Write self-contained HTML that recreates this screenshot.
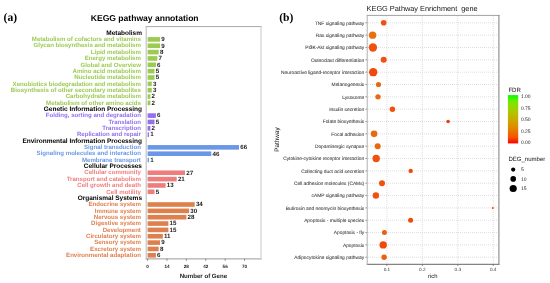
<!DOCTYPE html><html><head><meta charset="utf-8"><style>
html,body{margin:0;padding:0;background:#fff;width:550px;height:283px;overflow:hidden}
svg{display:block;will-change:transform}
text{font-family:"Liberation Sans",sans-serif;text-rendering:geometricPrecision}
</style></head><body>
<svg width="550" height="283" viewBox="0 0 550 283">
<rect width="550" height="283" fill="#fff"/>

<text x="3.6" y="20.8" style="font-family:'Liberation Serif',serif;font-weight:700;font-size:11.6px" fill="#000">(a)</text>
<text x="144.7" y="21.2" text-anchor="middle" style="font-weight:700;font-size:8.55px" fill="#000">KEGG pathway annotation</text>
<line x1="145.7" y1="26.6" x2="261.5" y2="26.6" stroke="#A8A8A8" stroke-width="1"/>
<line x1="145.7" y1="258.9" x2="261.5" y2="258.9" stroke="#999" stroke-width="1"/>
<line x1="146.2" y1="26.1" x2="146.2" y2="259.4" stroke="#B8B8B8" stroke-width="1"/>
<line x1="261.0" y1="26.1" x2="261.0" y2="259.4" stroke="#C8C8C8" stroke-width="1"/>
<text x="142" y="34.75" text-anchor="end" style="font-weight:700;font-size:6.5px" fill="#000">Metabolism</text>
<text x="140.9" y="41.10" text-anchor="end" style="font-weight:700;font-size:6.1px" fill="#9BCB52">Metabolism of cofactors and vitamins</text>
<rect x="147.6" y="37.10" width="12.46" height="4.6" fill="#9BCB52"/>
<text x="161.26" y="41.20" style="font-weight:700;font-size:6.2px" fill="#1a1a1a">9</text>
<text x="140.9" y="47.45" text-anchor="end" style="font-weight:700;font-size:6.1px" fill="#9BCB52">Glycan biosynthesis and metabolism</text>
<rect x="147.6" y="43.45" width="12.46" height="4.6" fill="#9BCB52"/>
<text x="161.26" y="47.55" style="font-weight:700;font-size:6.2px" fill="#1a1a1a">9</text>
<text x="140.9" y="53.80" text-anchor="end" style="font-weight:700;font-size:6.1px" fill="#9BCB52">Lipid metabolism</text>
<rect x="147.6" y="49.80" width="11.08" height="4.6" fill="#9BCB52"/>
<text x="159.88" y="53.90" style="font-weight:700;font-size:6.2px" fill="#1a1a1a">8</text>
<text x="140.9" y="60.15" text-anchor="end" style="font-weight:700;font-size:6.1px" fill="#9BCB52">Energy metabolism</text>
<rect x="147.6" y="56.15" width="9.70" height="4.6" fill="#9BCB52"/>
<text x="158.49" y="60.25" style="font-weight:700;font-size:6.2px" fill="#1a1a1a">7</text>
<text x="140.9" y="66.50" text-anchor="end" style="font-weight:700;font-size:6.1px" fill="#9BCB52">Global and Overview</text>
<rect x="147.6" y="62.50" width="8.31" height="4.6" fill="#9BCB52"/>
<text x="157.11" y="66.60" style="font-weight:700;font-size:6.2px" fill="#1a1a1a">6</text>
<text x="140.9" y="72.85" text-anchor="end" style="font-weight:700;font-size:6.1px" fill="#9BCB52">Amino acid metabolism</text>
<rect x="147.6" y="68.85" width="6.92" height="4.6" fill="#9BCB52"/>
<text x="155.72" y="72.95" style="font-weight:700;font-size:6.2px" fill="#1a1a1a">5</text>
<text x="140.9" y="79.20" text-anchor="end" style="font-weight:700;font-size:6.1px" fill="#9BCB52">Nucleotide metabolism</text>
<rect x="147.6" y="75.20" width="6.92" height="4.6" fill="#9BCB52"/>
<text x="155.72" y="79.30" style="font-weight:700;font-size:6.2px" fill="#1a1a1a">5</text>
<text x="140.9" y="85.55" text-anchor="end" style="font-weight:700;font-size:6.1px" fill="#9BCB52">Xenobiotics biodegradation and metabolism</text>
<rect x="147.6" y="81.55" width="4.16" height="4.6" fill="#9BCB52"/>
<text x="152.95" y="85.65" style="font-weight:700;font-size:6.2px" fill="#1a1a1a">3</text>
<text x="140.9" y="91.90" text-anchor="end" style="font-weight:700;font-size:6.1px" fill="#9BCB52">Biosynthesis of other secondary metabolites</text>
<rect x="147.6" y="87.90" width="4.16" height="4.6" fill="#9BCB52"/>
<text x="152.95" y="92.00" style="font-weight:700;font-size:6.2px" fill="#1a1a1a">3</text>
<text x="140.9" y="98.25" text-anchor="end" style="font-weight:700;font-size:6.1px" fill="#9BCB52">Carbohydrate metabolism</text>
<rect x="147.6" y="94.25" width="2.77" height="4.6" fill="#9BCB52"/>
<text x="151.57" y="98.35" style="font-weight:700;font-size:6.2px" fill="#1a1a1a">2</text>
<text x="140.9" y="104.60" text-anchor="end" style="font-weight:700;font-size:6.1px" fill="#9BCB52">Metabolism of other amino acids</text>
<rect x="147.6" y="100.60" width="2.77" height="4.6" fill="#9BCB52"/>
<text x="151.57" y="104.70" style="font-weight:700;font-size:6.2px" fill="#1a1a1a">2</text>
<text x="142" y="110.95" text-anchor="end" style="font-weight:700;font-size:6.5px" fill="#000">Genetic Information Processing</text>
<text x="140.9" y="117.30" text-anchor="end" style="font-weight:700;font-size:6.1px" fill="#9370EE">Folding, sorting and degradation</text>
<rect x="147.6" y="113.30" width="8.31" height="4.6" fill="#9370EE"/>
<text x="157.11" y="117.40" style="font-weight:700;font-size:6.2px" fill="#1a1a1a">6</text>
<text x="140.9" y="123.65" text-anchor="end" style="font-weight:700;font-size:6.1px" fill="#9370EE">Translation</text>
<rect x="147.6" y="119.65" width="6.92" height="4.6" fill="#9370EE"/>
<text x="155.72" y="123.75" style="font-weight:700;font-size:6.2px" fill="#1a1a1a">5</text>
<text x="140.9" y="130.00" text-anchor="end" style="font-weight:700;font-size:6.1px" fill="#9370EE">Transcription</text>
<rect x="147.6" y="126.00" width="2.77" height="4.6" fill="#9370EE"/>
<text x="151.57" y="130.10" style="font-weight:700;font-size:6.2px" fill="#1a1a1a">2</text>
<text x="140.9" y="136.35" text-anchor="end" style="font-weight:700;font-size:6.1px" fill="#9370EE">Replication and repair</text>
<rect x="147.6" y="132.35" width="1.39" height="4.6" fill="#9370EE"/>
<text x="150.18" y="136.45" style="font-weight:700;font-size:6.2px" fill="#1a1a1a">1</text>
<text x="142" y="142.70" text-anchor="end" style="font-weight:700;font-size:6.5px" fill="#000">Environmental Information Processing</text>
<text x="140.9" y="149.05" text-anchor="end" style="font-weight:700;font-size:6.1px" fill="#6A98E6">Signal transduction</text>
<rect x="147.6" y="145.05" width="91.41" height="4.6" fill="#6A98E6"/>
<text x="240.21" y="149.15" style="font-weight:700;font-size:6.2px" fill="#1a1a1a">66</text>
<text x="140.9" y="155.40" text-anchor="end" style="font-weight:700;font-size:6.1px" fill="#6A98E6">Signaling molecules and interaction</text>
<rect x="147.6" y="151.40" width="63.71" height="4.6" fill="#6A98E6"/>
<text x="212.51" y="155.50" style="font-weight:700;font-size:6.2px" fill="#1a1a1a">46</text>
<text x="140.9" y="161.75" text-anchor="end" style="font-weight:700;font-size:6.1px" fill="#6A98E6">Membrane transport</text>
<rect x="147.6" y="157.75" width="1.39" height="4.6" fill="#6A98E6"/>
<text x="150.18" y="161.85" style="font-weight:700;font-size:6.2px" fill="#1a1a1a">1</text>
<text x="142" y="168.10" text-anchor="end" style="font-weight:700;font-size:6.5px" fill="#000">Cellular Processes</text>
<text x="140.9" y="174.45" text-anchor="end" style="font-weight:700;font-size:6.1px" fill="#EE7E7E">Cellular community</text>
<rect x="147.6" y="170.45" width="37.40" height="4.6" fill="#EE7E7E"/>
<text x="186.19" y="174.55" style="font-weight:700;font-size:6.2px" fill="#1a1a1a">27</text>
<text x="140.9" y="180.80" text-anchor="end" style="font-weight:700;font-size:6.1px" fill="#EE7E7E">Transport and catabolism</text>
<rect x="147.6" y="176.80" width="29.09" height="4.6" fill="#EE7E7E"/>
<text x="177.88" y="180.90" style="font-weight:700;font-size:6.2px" fill="#1a1a1a">21</text>
<text x="140.9" y="187.15" text-anchor="end" style="font-weight:700;font-size:6.1px" fill="#EE7E7E">Cell growth and death</text>
<rect x="147.6" y="183.15" width="18.00" height="4.6" fill="#EE7E7E"/>
<text x="166.80" y="187.25" style="font-weight:700;font-size:6.2px" fill="#1a1a1a">13</text>
<text x="140.9" y="193.50" text-anchor="end" style="font-weight:700;font-size:6.1px" fill="#EE7E7E">Cell motility</text>
<rect x="147.6" y="189.50" width="6.92" height="4.6" fill="#EE7E7E"/>
<text x="155.72" y="193.60" style="font-weight:700;font-size:6.2px" fill="#1a1a1a">5</text>
<text x="142" y="199.85" text-anchor="end" style="font-weight:700;font-size:6.5px" fill="#000">Organismal Systems</text>
<text x="140.9" y="206.20" text-anchor="end" style="font-weight:700;font-size:6.1px" fill="#DE804E">Endocrine system</text>
<rect x="147.6" y="202.20" width="47.09" height="4.6" fill="#DE804E"/>
<text x="195.89" y="206.30" style="font-weight:700;font-size:6.2px" fill="#1a1a1a">34</text>
<text x="140.9" y="212.55" text-anchor="end" style="font-weight:700;font-size:6.1px" fill="#DE804E">Immune system</text>
<rect x="147.6" y="208.55" width="41.55" height="4.6" fill="#DE804E"/>
<text x="190.35" y="212.65" style="font-weight:700;font-size:6.2px" fill="#1a1a1a">30</text>
<text x="140.9" y="218.90" text-anchor="end" style="font-weight:700;font-size:6.1px" fill="#DE804E">Nervous system</text>
<rect x="147.6" y="214.90" width="38.78" height="4.6" fill="#DE804E"/>
<text x="187.58" y="219.00" style="font-weight:700;font-size:6.2px" fill="#1a1a1a">28</text>
<text x="140.9" y="225.25" text-anchor="end" style="font-weight:700;font-size:6.1px" fill="#DE804E">Digestive system</text>
<rect x="147.6" y="221.25" width="20.77" height="4.6" fill="#DE804E"/>
<text x="169.57" y="225.35" style="font-weight:700;font-size:6.2px" fill="#1a1a1a">15</text>
<text x="140.9" y="231.60" text-anchor="end" style="font-weight:700;font-size:6.1px" fill="#DE804E">Development</text>
<rect x="147.6" y="227.60" width="20.77" height="4.6" fill="#DE804E"/>
<text x="169.57" y="231.70" style="font-weight:700;font-size:6.2px" fill="#1a1a1a">15</text>
<text x="140.9" y="237.95" text-anchor="end" style="font-weight:700;font-size:6.1px" fill="#DE804E">Circulatory system</text>
<rect x="147.6" y="233.95" width="15.23" height="4.6" fill="#DE804E"/>
<text x="164.03" y="238.05" style="font-weight:700;font-size:6.2px" fill="#1a1a1a">11</text>
<text x="140.9" y="244.30" text-anchor="end" style="font-weight:700;font-size:6.1px" fill="#DE804E">Sensory system</text>
<rect x="147.6" y="240.30" width="12.46" height="4.6" fill="#DE804E"/>
<text x="161.26" y="244.40" style="font-weight:700;font-size:6.2px" fill="#1a1a1a">9</text>
<text x="140.9" y="250.65" text-anchor="end" style="font-weight:700;font-size:6.1px" fill="#DE804E">Excretory system</text>
<rect x="147.6" y="246.65" width="11.08" height="4.6" fill="#DE804E"/>
<text x="159.88" y="250.75" style="font-weight:700;font-size:6.2px" fill="#1a1a1a">8</text>
<text x="140.9" y="257.00" text-anchor="end" style="font-weight:700;font-size:6.1px" fill="#DE804E">Environmental adaptation</text>
<rect x="147.6" y="253.00" width="8.31" height="4.6" fill="#DE804E"/>
<text x="157.11" y="257.10" style="font-weight:700;font-size:6.2px" fill="#1a1a1a">6</text>
<line x1="147.60" y1="258.7" x2="147.60" y2="260.9" stroke="#555" stroke-width="0.6"/>
<text x="147.60" y="267.9" text-anchor="middle" style="font-size:4.6px;font-weight:700" fill="#222">0</text>
<line x1="166.99" y1="258.7" x2="166.99" y2="260.9" stroke="#555" stroke-width="0.6"/>
<text x="166.99" y="267.9" text-anchor="middle" style="font-size:4.6px;font-weight:700" fill="#222">14</text>
<line x1="186.38" y1="258.7" x2="186.38" y2="260.9" stroke="#555" stroke-width="0.6"/>
<text x="186.38" y="267.9" text-anchor="middle" style="font-size:4.6px;font-weight:700" fill="#222">28</text>
<line x1="205.77" y1="258.7" x2="205.77" y2="260.9" stroke="#555" stroke-width="0.6"/>
<text x="205.77" y="267.9" text-anchor="middle" style="font-size:4.6px;font-weight:700" fill="#222">42</text>
<line x1="225.16" y1="258.7" x2="225.16" y2="260.9" stroke="#555" stroke-width="0.6"/>
<text x="225.16" y="267.9" text-anchor="middle" style="font-size:4.6px;font-weight:700" fill="#222">56</text>
<line x1="244.55" y1="258.7" x2="244.55" y2="260.9" stroke="#555" stroke-width="0.6"/>
<text x="244.55" y="267.9" text-anchor="middle" style="font-size:4.6px;font-weight:700" fill="#222">70</text>
<text x="203.4" y="278.0" text-anchor="middle" style="font-size:6.1px;font-weight:700" fill="#1a1a1a">Number of Gene</text>
<text x="279.2" y="20.8" style="font-family:'Liberation Serif',serif;font-weight:700;font-size:11.6px" fill="#000">(b)</text>
<text x="366.6" y="11.3" style="font-size:7.35px;white-space:pre" fill="#111">KEGG Pathway Enrichment  gene</text>
<line x1="368" y1="22.80" x2="498.5" y2="22.80" stroke="#D6D6D6" stroke-width="0.8" stroke-dasharray="1 1"/>
<line x1="368" y1="35.14" x2="498.5" y2="35.14" stroke="#D6D6D6" stroke-width="0.8" stroke-dasharray="1 1"/>
<line x1="368" y1="47.48" x2="498.5" y2="47.48" stroke="#D6D6D6" stroke-width="0.8" stroke-dasharray="1 1"/>
<line x1="368" y1="59.82" x2="498.5" y2="59.82" stroke="#D6D6D6" stroke-width="0.8" stroke-dasharray="1 1"/>
<line x1="368" y1="72.16" x2="498.5" y2="72.16" stroke="#D6D6D6" stroke-width="0.8" stroke-dasharray="1 1"/>
<line x1="368" y1="84.50" x2="498.5" y2="84.50" stroke="#D6D6D6" stroke-width="0.8" stroke-dasharray="1 1"/>
<line x1="368" y1="96.84" x2="498.5" y2="96.84" stroke="#D6D6D6" stroke-width="0.8" stroke-dasharray="1 1"/>
<line x1="368" y1="109.18" x2="498.5" y2="109.18" stroke="#D6D6D6" stroke-width="0.8" stroke-dasharray="1 1"/>
<line x1="368" y1="121.52" x2="498.5" y2="121.52" stroke="#D6D6D6" stroke-width="0.8" stroke-dasharray="1 1"/>
<line x1="368" y1="133.86" x2="498.5" y2="133.86" stroke="#D6D6D6" stroke-width="0.8" stroke-dasharray="1 1"/>
<line x1="368" y1="146.20" x2="498.5" y2="146.20" stroke="#D6D6D6" stroke-width="0.8" stroke-dasharray="1 1"/>
<line x1="368" y1="158.54" x2="498.5" y2="158.54" stroke="#D6D6D6" stroke-width="0.8" stroke-dasharray="1 1"/>
<line x1="368" y1="170.88" x2="498.5" y2="170.88" stroke="#D6D6D6" stroke-width="0.8" stroke-dasharray="1 1"/>
<line x1="368" y1="183.22" x2="498.5" y2="183.22" stroke="#D6D6D6" stroke-width="0.8" stroke-dasharray="1 1"/>
<line x1="368" y1="195.56" x2="498.5" y2="195.56" stroke="#D6D6D6" stroke-width="0.8" stroke-dasharray="1 1"/>
<line x1="368" y1="207.90" x2="498.5" y2="207.90" stroke="#D6D6D6" stroke-width="0.8" stroke-dasharray="1 1"/>
<line x1="368" y1="220.24" x2="498.5" y2="220.24" stroke="#D6D6D6" stroke-width="0.8" stroke-dasharray="1 1"/>
<line x1="368" y1="232.58" x2="498.5" y2="232.58" stroke="#D6D6D6" stroke-width="0.8" stroke-dasharray="1 1"/>
<line x1="368" y1="244.92" x2="498.5" y2="244.92" stroke="#D6D6D6" stroke-width="0.8" stroke-dasharray="1 1"/>
<line x1="368" y1="257.26" x2="498.5" y2="257.26" stroke="#D6D6D6" stroke-width="0.8" stroke-dasharray="1 1"/>
<line x1="386.9" y1="16" x2="386.9" y2="264" stroke="#D6D6D6" stroke-width="0.8" stroke-dasharray="1 1"/>
<line x1="386.9" y1="264.2" x2="386.9" y2="266" stroke="#444" stroke-width="0.6"/>
<text x="386.9" y="270.9" text-anchor="middle" style="font-size:4.7px" fill="#333">0.1</text>
<line x1="422.3" y1="16" x2="422.3" y2="264" stroke="#D6D6D6" stroke-width="0.8" stroke-dasharray="1 1"/>
<line x1="422.3" y1="264.2" x2="422.3" y2="266" stroke="#444" stroke-width="0.6"/>
<text x="422.3" y="270.9" text-anchor="middle" style="font-size:4.7px" fill="#333">0.2</text>
<line x1="457.8" y1="16" x2="457.8" y2="264" stroke="#D6D6D6" stroke-width="0.8" stroke-dasharray="1 1"/>
<line x1="457.8" y1="264.2" x2="457.8" y2="266" stroke="#444" stroke-width="0.6"/>
<text x="457.8" y="270.9" text-anchor="middle" style="font-size:4.7px" fill="#333">0.3</text>
<line x1="493.2" y1="16" x2="493.2" y2="264" stroke="#D6D6D6" stroke-width="0.8" stroke-dasharray="1 1"/>
<line x1="493.2" y1="264.2" x2="493.2" y2="266" stroke="#444" stroke-width="0.6"/>
<text x="493.2" y="270.9" text-anchor="middle" style="font-size:4.7px" fill="#333">0.4</text>
<circle cx="383.7" cy="22.80" r="2.8" fill="#F05010"/>
<text x="364.2" y="24.70" text-anchor="end" style="font-size:4.85px;stroke:#333;stroke-width:0.05px" fill="#333">TNF signaling pathway</text>
<line x1="365.4" y1="22.80" x2="367.2" y2="22.80" stroke="#444" stroke-width="0.6"/>
<circle cx="372.6" cy="35.14" r="3.7" fill="#E87010"/>
<text x="364.2" y="37.04" text-anchor="end" style="font-size:4.85px;stroke:#333;stroke-width:0.05px" fill="#333">Ras signaling pathway</text>
<line x1="365.4" y1="35.14" x2="367.2" y2="35.14" stroke="#444" stroke-width="0.6"/>
<circle cx="372.9" cy="47.48" r="4.2" fill="#F05010"/>
<text x="364.2" y="49.38" text-anchor="end" style="font-size:4.85px;stroke:#333;stroke-width:0.05px" fill="#333">PI3K-Akt signaling pathway</text>
<line x1="365.4" y1="47.48" x2="367.2" y2="47.48" stroke="#444" stroke-width="0.6"/>
<circle cx="383.7" cy="59.82" r="3.0" fill="#F05010"/>
<text x="364.2" y="61.72" text-anchor="end" style="font-size:4.85px;stroke:#333;stroke-width:0.05px" fill="#333">Osteoclast differentiation</text>
<line x1="365.4" y1="59.82" x2="367.2" y2="59.82" stroke="#444" stroke-width="0.6"/>
<circle cx="373.2" cy="72.16" r="4.2" fill="#F04A0A"/>
<text x="364.2" y="74.06" text-anchor="end" style="font-size:4.85px;stroke:#333;stroke-width:0.05px" fill="#333">Neuroactive ligand-receptor interaction</text>
<line x1="365.4" y1="72.16" x2="367.2" y2="72.16" stroke="#444" stroke-width="0.6"/>
<circle cx="378.5" cy="84.50" r="2.6" fill="#E86A10"/>
<text x="364.2" y="86.40" text-anchor="end" style="font-size:4.85px;stroke:#333;stroke-width:0.05px" fill="#333">Melanogenesis</text>
<line x1="365.4" y1="84.50" x2="367.2" y2="84.50" stroke="#444" stroke-width="0.6"/>
<circle cx="378.0" cy="96.84" r="2.7" fill="#E86A10"/>
<text x="364.2" y="98.74" text-anchor="end" style="font-size:4.85px;stroke:#333;stroke-width:0.05px" fill="#333">Lysosome</text>
<line x1="365.4" y1="96.84" x2="367.2" y2="96.84" stroke="#444" stroke-width="0.6"/>
<circle cx="392.4" cy="109.18" r="2.75" fill="#F05010"/>
<text x="364.2" y="111.08" text-anchor="end" style="font-size:4.85px;stroke:#333;stroke-width:0.05px" fill="#333">Insulin secretion</text>
<line x1="365.4" y1="109.18" x2="367.2" y2="109.18" stroke="#444" stroke-width="0.6"/>
<circle cx="448.1" cy="121.52" r="1.8" fill="#F03A0A"/>
<text x="364.2" y="123.42" text-anchor="end" style="font-size:4.85px;stroke:#333;stroke-width:0.05px" fill="#333">Folate biosynthesis</text>
<line x1="365.4" y1="121.52" x2="367.2" y2="121.52" stroke="#444" stroke-width="0.6"/>
<circle cx="374.1" cy="133.86" r="3.3" fill="#E86A10"/>
<text x="364.2" y="135.76" text-anchor="end" style="font-size:4.85px;stroke:#333;stroke-width:0.05px" fill="#333">Focal adhesion</text>
<line x1="365.4" y1="133.86" x2="367.2" y2="133.86" stroke="#444" stroke-width="0.6"/>
<circle cx="377.7" cy="146.20" r="3.0" fill="#E86A10"/>
<text x="364.2" y="148.10" text-anchor="end" style="font-size:4.85px;stroke:#333;stroke-width:0.05px" fill="#333">Dopaminergic synapse</text>
<line x1="365.4" y1="146.20" x2="367.2" y2="146.20" stroke="#444" stroke-width="0.6"/>
<circle cx="376.2" cy="158.54" r="3.7" fill="#F05010"/>
<text x="364.2" y="160.44" text-anchor="end" style="font-size:4.85px;stroke:#333;stroke-width:0.05px" fill="#333">Cytokine-cytokine receptor interaction</text>
<line x1="365.4" y1="158.54" x2="367.2" y2="158.54" stroke="#444" stroke-width="0.6"/>
<circle cx="410.7" cy="170.88" r="2.2" fill="#F04A0A"/>
<text x="364.2" y="172.78" text-anchor="end" style="font-size:4.85px;stroke:#333;stroke-width:0.05px" fill="#333">Collecting duct acid secretion</text>
<line x1="365.4" y1="170.88" x2="367.2" y2="170.88" stroke="#444" stroke-width="0.6"/>
<circle cx="382.0" cy="183.22" r="3.0" fill="#F05010"/>
<text x="364.2" y="185.12" text-anchor="end" style="font-size:4.85px;stroke:#333;stroke-width:0.05px" fill="#333">Cell adhesion molecules (CAMs)</text>
<line x1="365.4" y1="183.22" x2="367.2" y2="183.22" stroke="#444" stroke-width="0.6"/>
<circle cx="375.9" cy="195.56" r="3.2" fill="#F05010"/>
<text x="364.2" y="197.46" text-anchor="end" style="font-size:4.85px;stroke:#333;stroke-width:0.05px" fill="#333">cAMP signaling pathway</text>
<line x1="365.4" y1="195.56" x2="367.2" y2="195.56" stroke="#444" stroke-width="0.6"/>
<circle cx="492.8" cy="207.90" r="1.0" fill="#E85010"/>
<text x="364.2" y="209.80" text-anchor="end" style="font-size:4.85px;stroke:#333;stroke-width:0.05px" fill="#333">Butirosin and neomycin biosynthesis</text>
<line x1="365.4" y1="207.90" x2="367.2" y2="207.90" stroke="#444" stroke-width="0.6"/>
<circle cx="410.6" cy="220.24" r="2.5" fill="#F04A0A"/>
<text x="364.2" y="222.14" text-anchor="end" style="font-size:4.85px;stroke:#333;stroke-width:0.05px" fill="#333">Apoptosis - multiple species</text>
<line x1="365.4" y1="220.24" x2="367.2" y2="220.24" stroke="#444" stroke-width="0.6"/>
<circle cx="384.4" cy="232.58" r="2.5" fill="#E86010"/>
<text x="364.2" y="234.48" text-anchor="end" style="font-size:4.85px;stroke:#333;stroke-width:0.05px" fill="#333">Apoptosis - fly</text>
<line x1="365.4" y1="232.58" x2="367.2" y2="232.58" stroke="#444" stroke-width="0.6"/>
<circle cx="383.2" cy="244.92" r="3.7" fill="#F04A0A"/>
<text x="364.2" y="246.82" text-anchor="end" style="font-size:4.85px;stroke:#333;stroke-width:0.05px" fill="#333">Apoptosis</text>
<line x1="365.4" y1="244.92" x2="367.2" y2="244.92" stroke="#444" stroke-width="0.6"/>
<circle cx="384.1" cy="257.26" r="2.7" fill="#E86010"/>
<text x="364.2" y="259.16" text-anchor="end" style="font-size:4.85px;stroke:#333;stroke-width:0.05px" fill="#333">Adipocytokine signaling pathway</text>
<line x1="365.4" y1="257.26" x2="367.2" y2="257.26" stroke="#444" stroke-width="0.6"/>
<line x1="366.7" y1="15.4" x2="499.4" y2="15.4" stroke="#A0A0A0" stroke-width="1"/>
<line x1="366.7" y1="264.3" x2="499.4" y2="264.3" stroke="#666" stroke-width="1"/>
<line x1="367.2" y1="14.9" x2="367.2" y2="264.8" stroke="#B0B0B0" stroke-width="1"/>
<line x1="498.9" y1="14.9" x2="498.9" y2="264.8" stroke="#888" stroke-width="1.1"/>
<text x="437.5" y="278.3" text-anchor="end" style="font-size:5.9px" fill="#111">rich</text>
<text transform="translate(279.0,139.6) rotate(-90)" text-anchor="middle" style="font-size:6.4px" fill="#111">Pathway</text>
<text x="508.4" y="91.5" style="font-size:6.1px" fill="#111">FDR</text>
<defs><linearGradient id="fdr" x1="0" y1="1" x2="0" y2="0">
<stop offset="0" stop-color="#ff0000"/><stop offset="0.125" stop-color="#f45300"/><stop offset="0.25" stop-color="#e87600"/>
<stop offset="0.375" stop-color="#da9200"/><stop offset="0.5" stop-color="#c9ab00"/><stop offset="0.625" stop-color="#b3c200"/>
<stop offset="0.75" stop-color="#98d700"/><stop offset="0.875" stop-color="#70eb00"/><stop offset="1" stop-color="#00ff00"/>
</linearGradient></defs>
<rect x="507.9" y="95.1" width="10.3" height="48.3" fill="url(#fdr)"/>
<text x="520.9" y="98.30" style="font-size:5.0px" fill="#262626">1.00</text>
<text x="520.9" y="109.70" style="font-size:5.0px" fill="#262626">0.75</text>
<text x="520.9" y="121.10" style="font-size:5.0px" fill="#262626">0.50</text>
<text x="520.9" y="132.50" style="font-size:5.0px" fill="#262626">0.25</text>
<text x="520.9" y="143.90" style="font-size:5.0px" fill="#262626">0.00</text>
<text x="508.4" y="160.9" style="font-size:6.05px" fill="#111">DEG_number</text>
<circle cx="513.2" cy="169.6" r="2.1" fill="#000"/>
<text x="520.9" y="171.30" style="font-size:5.0px" fill="#262626">5</text>
<circle cx="513.2" cy="178.9" r="2.8" fill="#000"/>
<text x="520.9" y="180.60" style="font-size:5.0px" fill="#262626">10</text>
<circle cx="513.2" cy="188.5" r="3.6" fill="#000"/>
<text x="520.9" y="190.20" style="font-size:5.0px" fill="#262626">15</text>
</svg></body></html>
